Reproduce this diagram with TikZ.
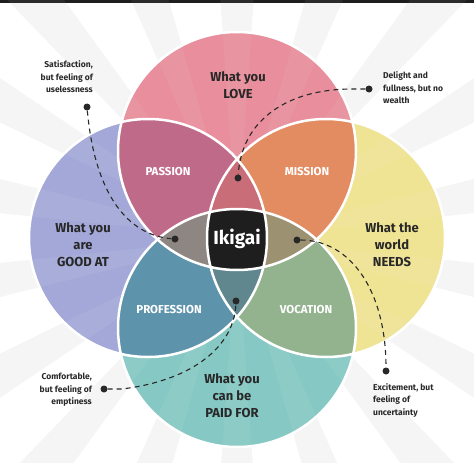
\documentclass[tikz,border=0pt]{standalone}
\usepackage{fontspec}
\setmainfont{Fira Sans}
\usepackage{tikz}
\usetikzlibrary{positioning}
\usepackage{xcolor}
\definecolor{iklove}{RGB}{232,142,156}
\definecolor{ikgood}{RGB}{163,168,216}
\definecolor{ikneeds}{RGB}{239,227,148}
\definecolor{ikpaid}{RGB}{134,200,196}
\definecolor{ikpassion}{RGB}{192,106,138}
\definecolor{ikmission}{RGB}{227,140,98}
\definecolor{ikprofession}{RGB}{94,147,172}
\definecolor{ikvocation}{RGB}{147,179,142}
\definecolor{iktop}{RGB}{201,110,120}
\definecolor{ikleft}{RGB}{142,134,131}
\definecolor{ikright}{RGB}{156,146,114}
\definecolor{ikbottom}{RGB}{96,135,142}
\definecolor{ikcenter}{RGB}{30,30,30}
\definecolor{iktext}{RGB}{40,40,40}
\tikzstyle{dotnode} = [circle, fill=iktext, inner sep=0pt, minimum size=7pt]
\tikzstyle{dashline} = [line width=1.1pt, dash pattern=on 5pt off 4pt, color=iktext]
\tikzstyle{circletext} = [align=center, font=\fontsize{13}{17}\selectfont\bfseries, text=iktext]
\tikzstyle{overlaptext} = [font=\fontsize{11.5}{14}\selectfont\bfseries, text=white]
\tikzstyle{notetext} = [inner sep=0pt, font=\fontsize{8.5}{12.5}\selectfont\bfseries, text=iktext]

\begin{document}
\begin{tikzpicture}[x=1pt, y=-1pt]
\useasboundingbox (0,0) rectangle (474,463);
\coordinate (mid) at (237,238);
\coordinate (cLove) at (237,151);
\coordinate (cGood) at (148,238);
\coordinate (cNeeds) at (326,238);
\coordinate (cPaid) at (237,328);

% background rays
\begin{scope}
\clip (0,0) rectangle (474,463);
\foreach \a in {10,30,...,350}
  \fill[black!4] (mid) -- +(\a-4:420pt) -- +(\a+4:420pt) -- cycle;
\end{scope}
\fill[ikcenter] (0,0) rectangle (474,2.5);

% the four circles
\fill[iklove] (cLove) circle (119pt);
\fill[ikgood] (cGood) circle (119pt);
\fill[ikneeds] (cNeeds) circle (119pt);
\fill[ikpaid] (cPaid) circle (119pt);
\begin{scope}
\clip (0,0) rectangle (474,463);
\foreach \a in {10,30,...,350}
  \fill[white, opacity=0.06] (mid) -- +(\a-4:420pt) -- +(\a+4:420pt) -- cycle;
\end{scope}

% overlaps of two
\begin{scope}
\clip (cLove) circle (119pt);
\fill[ikpassion] (cGood) circle (119pt);
\fill[ikmission] (cNeeds) circle (119pt);
\end{scope}
\begin{scope}
\clip (cPaid) circle (119pt);
\fill[ikprofession] (cGood) circle (119pt);
\fill[ikvocation] (cNeeds) circle (119pt);
\end{scope}

% overlaps of three
\begin{scope}
\clip (cGood) circle (119pt);
\clip (cNeeds) circle (119pt);
\fill[iktop] (cLove) circle (119pt);
\fill[ikbottom] (cPaid) circle (119pt);
\end{scope}
\begin{scope}
\clip (cLove) circle (119pt);
\clip (cPaid) circle (119pt);
\fill[ikleft] (cGood) circle (119pt);
\fill[ikright] (cNeeds) circle (119pt);
\end{scope}

% all four
\begin{scope}
\clip (cLove) circle (119pt);
\clip (cGood) circle (119pt);
\clip (cNeeds) circle (119pt);
\fill[ikcenter] (cPaid) circle (119pt);
\end{scope}

\foreach \c in {cLove,cGood,cNeeds,cPaid}
  \draw[white, line width=2.5pt] (\c) circle (119pt);

\node[font=\fontsize{19}{20}\selectfont\bfseries, text=white] (ikigai) at (237,239) {Ikigai};

\node[circletext] (love) at (238,85) {What you\\LOVE};
\node[circletext] (good) at (83,245) {What you\\are\\GOOD AT};
\node[circletext] (needs) at (392,245) {What the\\world\\NEEDS};
\node[circletext] (paid) at (232,396) {What you\\can be\\PAID FOR};

\node[overlaptext] (passion) at (168,172) {PASSION};
\node[overlaptext] (mission) at (307,172) {MISSION};
\node[overlaptext] (profession) at (169,310) {PROFESSION};
\node[overlaptext] (vocation) at (306,310) {VOCATION};

% dots in the three-way overlaps
\node[dotnode] (dotT) at (238,178) {};
\node[dotnode] (dotL) at (175,239) {};
\node[dotnode] (dotR) at (297,240) {};
\node[dotnode] (dotB) at (236,301) {};

% notes
\node[dotnode] (dotSat) at (87,107) {};
\node[notetext, align=right, anchor=east] (sat) at (93,77) {Satisfaction,\\but feeling of\\uselessness};
\node[dotnode] (dotDel) at (369,89) {};
\node[notetext, align=left, anchor=west] (del) at (383,88) {Delight and\\fullness, but no\\wealth};
\node[dotnode] (dotCom) at (104,389) {};
\node[notetext, align=right, anchor=east] (com) at (92,390) {Comfortable,\\but feeling of\\emptiness};
\node[dotnode] (dotExc) at (386,371) {};
\node[notetext, align=left, anchor=north west] (exc) at (373,383) {Excitement, but\\feeling of\\uncertainty};

\draw[dashline] (dotSat) .. controls (95,195) and (128,235) .. (dotL);
\draw[dashline] (dotDel) -- ++(-17,0) .. controls +(-62,0) and +(4,-60) .. (dotT);
\draw[dashline] (dotCom) -- ++(18,0) .. controls +(73,-9) and +(-2,44) .. (dotB);
\draw[dashline] (dotR) .. controls +(53,0) and +(0,-81) .. (dotExc);
\end{tikzpicture}
\end{document}
